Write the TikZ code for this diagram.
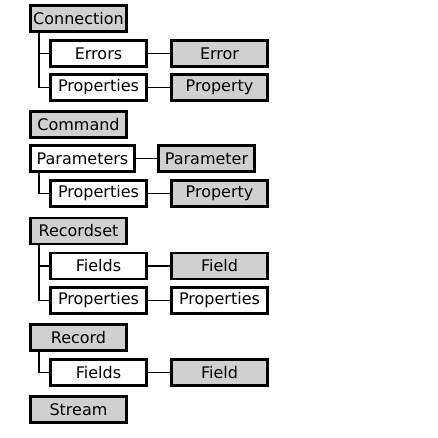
\documentclass[tikz,border=0pt]{standalone}
\usepackage{fontspec}
\setmainfont{DejaVu Sans}
\usetikzlibrary{backgrounds}
\definecolor{boxgray}{RGB}{208,208,208}
\begin{document}
\begin{tikzpicture}[x=0.75pt,y=-0.75pt,
  obj/.style={draw=black,line width=2.1pt,minimum width=72pt,minimum height=19.5pt,inner sep=0pt,font=\fontsize{12}{14}\selectfont},
  grayobj/.style={obj,fill=boxgray},
  whiteobj/.style={obj,fill=white},
  conn/.style={line width=1.4pt,black}]
\useasboundingbox (0,0) rectangle (438,437);
% Connection
\node[grayobj] (connection) at (78.5,18.5) {Connection};
\node[whiteobj] (errors) at (98.5,53.5) {Errors};
\node[grayobj] (error) at (219.5,53.5) {Error};
\node[whiteobj] (cprops) at (98.5,87.5) {Properties};
\node[grayobj] (cprop) at (219.5,87.5) {Property};
% Command
\node[grayobj] (command) at (78.5,124.5) {Command};
\node[whiteobj,minimum width=78pt] (params) at (82.5,158.5) {Parameters};
\node[grayobj] (param) at (206.5,158.5) {Parameter};
\node[whiteobj] (pprops) at (98.5,193.5) {Properties};
\node[grayobj] (pprop) at (219.5,193.5) {Property};
% Recordset
\node[grayobj] (recordset) at (78.5,231) {Recordset};
\node[whiteobj] (rsfields) at (98.5,266) {Fields};
\node[grayobj] (rsfield) at (219.5,266) {Field};
\node[whiteobj] (rsprops) at (98.5,300.5) {Properties};
\node[whiteobj] (rsprop) at (219.5,300.5) {Properties};
% Record
\node[grayobj] (record) at (78.5,337.5) {Record};
\node[whiteobj] (rfields) at (98.5,372.5) {Fields};
\node[grayobj] (rfield) at (219.5,372.5) {Field};
% Stream
\node[grayobj] (stream) at (78.5,409.5) {Stream};
% connectors
\begin{pgfonlayer}{background}
\draw[conn] ([xshift=7.5pt]connection.south west) |- (errors.west);
\draw[conn] ([xshift=7.5pt]connection.south west) |- (cprops.west);
\draw[conn] (errors) -- (error);
\draw[conn] (cprops) -- (cprop);
\draw[conn] ([xshift=7.5pt]params.south west) |- (pprops.west);
\draw[conn] (params) -- (param);
\draw[conn] (pprops) -- (pprop);
\draw[conn] ([xshift=7.5pt]recordset.south west) |- (rsfields.west);
\draw[conn] ([xshift=7.5pt]recordset.south west) |- (rsprops.west);
\draw[conn] (rsfields) -- (rsfield);
\draw[conn] (rsprops) -- (rsprop);
\draw[conn] ([xshift=7.5pt]record.south west) |- (rfields.west);
\draw[conn] (rfields) -- (rfield);
\end{pgfonlayer}
\end{tikzpicture}
\end{document}
